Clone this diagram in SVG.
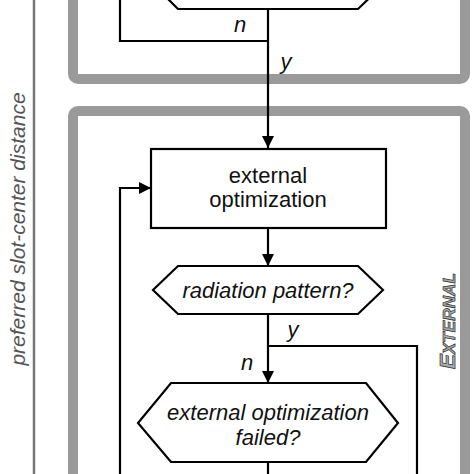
<svg xmlns="http://www.w3.org/2000/svg" width="474" height="474" viewBox="0 0 474 474">
<style>
.frame{fill:none;stroke:#9a9a9a;stroke-width:10}
.shape{fill:#fff;stroke:#000;stroke-width:2.2}
.ln{fill:none;stroke:#000;stroke-width:2.2}
.t{font-family:"Liberation Sans",Arial,sans-serif;font-size:22px;fill:#111;text-anchor:middle}
.i{font-style:italic}
</style>
<defs>
<marker id="ah" viewBox="0 0 12 12" refX="12" refY="6" markerWidth="12" markerHeight="12" markerUnits="userSpaceOnUse" orient="auto">
<path d="M0,0 L12,6 L0,12 Z" fill="#000"/>
</marker>
</defs>
<rect width="474" height="474" fill="#fff"/>
<line x1="34" y1="0" x2="34" y2="474" stroke="#777" stroke-width="2.5"/>
<text x="0" y="0" transform="translate(25,229) rotate(-90)" style="font-family:'Liberation Sans',Arial,sans-serif;font-style:italic;font-size:21px;fill:#555;text-anchor:middle">preferred slot-center distance</text>
<g id="frame-top"><rect class="frame" x="73" y="-30" width="392" height="109" rx="5"/></g>
<g id="frame-external"><rect class="frame" x="73" y="111" width="392" height="400" rx="5"/>
<text x="0" y="0" transform="translate(455,369) rotate(-90)" textLength="96" lengthAdjust="spacingAndGlyphs" style="font-family:'Liberation Sans',Arial,sans-serif;font-style:italic;font-weight:bold;fill:#aaa;stroke:#333;stroke-width:0.7"><tspan font-size="22">E</tspan><tspan font-size="17">XTERNAL</tspan></text>
</g>
<g id="connectors">
<line class="ln" x1="268" y1="9" x2="268" y2="148" marker-end="url(#ah)"/>
<polyline class="ln" points="268,41 120,41 120,0"/>
<line class="ln" x1="268" y1="228" x2="268" y2="266" marker-end="url(#ah)"/>
<line class="ln" x1="268" y1="314" x2="268" y2="383" marker-end="url(#ah)"/>
<polyline class="ln" points="268,346 417,346 417,474"/>
<line class="ln" x1="268" y1="462" x2="268" y2="474"/>
<polyline class="ln" points="120,474 120,188 151,188" marker-end="url(#ah)"/>
</g>
<text class="t i" x="240" y="32">n</text>
<text class="t i" x="286" y="69">y</text>
<text class="t i" x="293" y="337">y</text>
<text class="t i" x="247" y="370">n</text>
<g id="decision-top"><polygon class="shape" points="178,9 154,-15 383,-15 358,9"/></g>
<g id="external-optimization"><rect class="shape" x="151" y="149" width="235" height="79"/>
<text class="t" x="268" y="183">external</text>
<text class="t" x="268" y="207">optimization</text></g>
<g id="radiation-pattern"><polygon class="shape" points="178,266 358,266 383,290 358,314 178,314 153,290"/>
<text class="t i" x="268" y="298">radiation pattern?</text></g>
<g id="external-failed"><polygon class="shape" points="171,383 366,383 398,423 366,462 171,462 138,423"/>
<text class="t i" x="268" y="420">external optimization</text>
<text class="t i" x="268" y="445">failed?</text></g>
</svg>
